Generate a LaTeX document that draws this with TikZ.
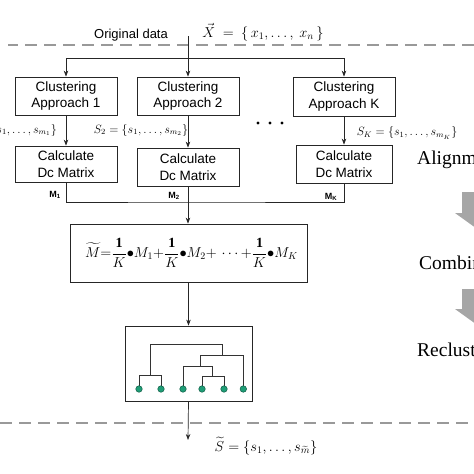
\documentclass[tikz,border=0pt]{standalone}
\usepackage{amsmath}
\usepackage{fontspec}
\setmainfont{Liberation Serif}
\setsansfont{Liberation Sans}
\usetikzlibrary{arrows.meta}
\definecolor{leafg}{HTML}{1F9E77}
\definecolor{leafd}{HTML}{0E5C45}
\begin{document}
\begin{tikzpicture}[x=1pt,y=-1pt,
  box/.style={draw=black!85, line width=0.8pt, align=center, inner sep=0pt,
    font=\sffamily\fontsize{13.5}{16.5}\selectfont},
  conn/.style={draw=black!85, line width=0.7pt},
  arr/.style={conn, -{Stealth[length=6pt,width=4.5pt]}},
  dashline/.style={draw=black!40, line width=2.5pt, dash pattern=on 12pt off 7pt},
  mlab/.style={font=\sffamily\bfseries\fontsize{9}{9}\selectfont, inner sep=0pt},
  slab/.style={font=\fontsize{12}{12}\selectfont, inner sep=0pt},
  side/.style={font=\fontsize{19.5}{19.5}\selectfont, anchor=base west, inner sep=0pt},
  dend/.style={draw=black!80, line width=0.7pt},
  leaf/.style={circle, fill=leafg, draw=leafd, line width=0.5pt, minimum size=6.5pt, inner sep=0pt},
  grayarr/.style={fill=black!35}
]
\useasboundingbox (0,0) rectangle (474,474);
\begin{scope}
\clip (0,0) rectangle (474,474);
\fill[white] (0,0) rectangle (474,474);

% dashed separators
\draw[dashline, dash phase=2pt] (8,45) -- (474,45);
\draw[dashline] (0,423) -- (474,423);

% top labels
\node[font=\sffamily\fontsize{13}{13}\selectfont, inner sep=0pt] (orig) at (131,35) {Original data};
\node[font=\fontsize{14}{14}\selectfont, inner sep=0pt] (xlab) at (263,32) {$\vec{X}\ =\ \{\,x_{1},\ldots,\ x_{n}\,\}$};

% clustering boxes
\node[box, minimum width=102, minimum height=38] (c1) at (66,96) {Clustering\\Approach 1};
\node[box, minimum width=102, minimum height=38] (c2) at (188,96) {Clustering\\Approach 2};
\node[box, minimum width=102, minimum height=39] (cK) at (344,96.5) {Clustering\\Approach K};

% calculate boxes
\node[box, minimum width=102, minimum height=36] (d1) at (66,164) {Calculate\\Dc Matrix};
\node[box, minimum width=102, minimum height=38] (d2) at (188,167) {Calculate\\Dc Matrix};
\node[box, minimum width=96, minimum height=38] (dK) at (344,164) {Calculate\\Dc Matrix};

% input distribution
\coordinate (top) at (188,36);
\coordinate (split) at (188,58);
\draw[arr] (top) -- (c2.north);
\draw[conn] (c1.north |- split) -- (cK.north |- split);
\draw[arr] (c1.north |- split) -- (c1.north);
\draw[arr] (cK.north |- split) -- (cK.north);

% clustering -> calculate
\draw[arr] (c1.south) -- (d1.north);
\draw[arr] (c2.south) -- (d2.north);
\draw[arr] (cK.south) -- (dK.north);

% S labels
\node[slab, anchor=east] (s1) at (57,130) {$S_1=\{s_1,\ldots,s_{m_1}\}$};
\node[slab] (s2) at (141,130) {$S_2=\{s_1,\ldots,s_{m_2}\}$};
\node[slab] (sK) at (407,133) {$S_K=\{s_1,\ldots,s_{m_K}\}$};

% dots
\fill (258,123) circle (1.6);
\fill (270,123) circle (1.6);
\fill (282,123) circle (1.6);

% M labels
\node[mlab] (m1) at (55,195) {M\textsubscript{1}};
\node[mlab] (m2) at (174,196) {M\textsubscript{2}};
\node[mlab] (mK) at (331,197) {M\textsubscript{K}};

% combine box
\node[box, minimum width=237, minimum height=58, font=\fontsize{14}{14}\selectfont] (comb) at (188.5,253)
  {\hspace*{6pt}$\widetilde{M}{=}\dfrac{\mathbf{1}}{K}{\bullet}M_1{+}\dfrac{\mathbf{1}}{K}{\bullet}M_2{+}\,\cdots{+}\dfrac{\mathbf{1}}{K}{\bullet}M_K$};

% collector
\coordinate (col) at (188,202);
\draw[conn] (d1.south) |- (col) -| (dK.south);
\draw[arr] (d2.south) -- (d2.south |- comb.north);

% dendrogram box
\node[box, minimum width=127, minimum height=75] (dendro) at (188.5,363.5) {};
\draw[arr] (dendro.north |- comb.south) -- (dendro.north);
\coordinate (out) at (188,440);
\draw[arr] (dendro.south) -- (out);
\node[font=\fontsize{14}{14}\selectfont, inner sep=0pt] (stil) at (266,446) {$\widetilde{S}=\{s_1,\ldots,s_{\widetilde{m}}\}$};

% dendrogram
\draw[dend] (139,389) |- (161,375.7) -- (161,389);
\draw[dend] (150,375.7) |- (222.3,344) -- (222.3,355.7);
\draw[dend] (200,366) |- (243.3,355.7) -- (243.3,389);
\draw[dend] (183,389) |- (212.7,366) -- (212.7,376);
\draw[dend] (202,389) |- (224,376) -- (224,389);
\foreach \lx in {139,161,183,202,224,243.3} \node[leaf] at (\lx,389) {};

% right side steps
\node[side] (al) at (417,164) {Alignment};
\node[side] (co) at (419,269) {Combination};
\node[side] (re) at (417,356) {Reclustering};
\fill[grayarr] (462,192) -- (462,213) -- (455,213) -- (480,231) -- (505,213) -- (498,213) -- (498,192) -- cycle;
\fill[grayarr] (462,289) -- (462,309) -- (455,309) -- (480,327) -- (505,309) -- (498,309) -- (498,289) -- cycle;
\end{scope}
\end{tikzpicture}
\end{document}
